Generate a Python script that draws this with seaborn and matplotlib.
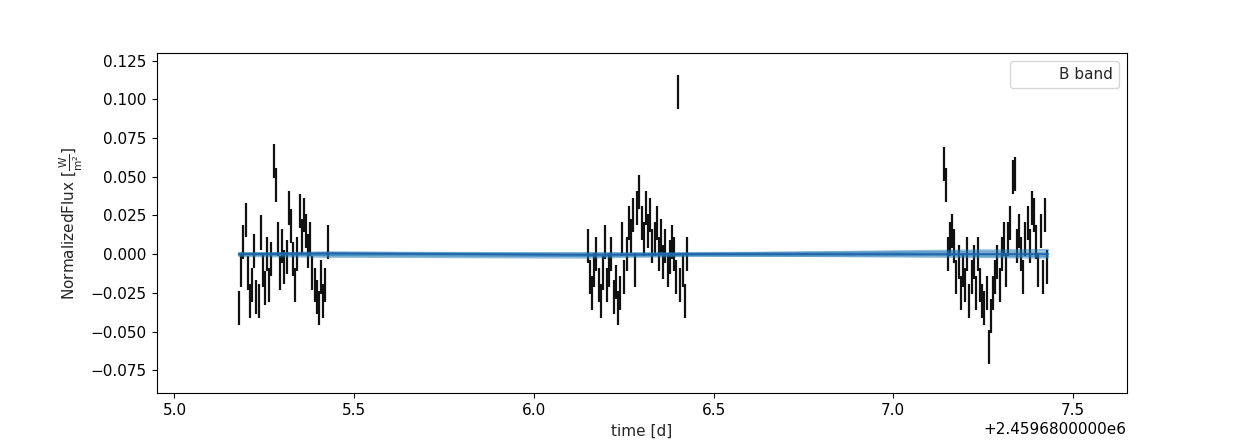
import numpy as np
import matplotlib
matplotlib.use('Agg')
import matplotlib.pyplot as plt
import matplotlib.ticker as ticker
import seaborn as sns

t0 = 2459680.0

# night 1
t1 = [5.180, 5.186, 5.192, 5.198, 5.204, 5.210, 5.216, 5.222, 5.228, 5.234, 5.240,
      5.246, 5.252, 5.258, 5.264, 5.270, 5.276, 5.282, 5.288, 5.294, 5.300, 5.306,
      5.312, 5.318, 5.324, 5.330, 5.336, 5.342, 5.348, 5.354, 5.360, 5.366, 5.372,
      5.378, 5.384, 5.390, 5.396, 5.402, 5.408, 5.414, 5.420, 5.426]
f1 = [-0.035, -0.010, 0.008, 0.022, -0.012, -0.030, -0.020, 0.002, -0.028, -0.030, 0.014,
      -0.010, -0.022, 0.000, -0.020, -0.003, 0.060, 0.045, 0.010, -0.012, 0.005, -0.008,
      -0.002, 0.030, 0.018, -0.003, -0.020, 0.000, 0.028, 0.012, 0.025, 0.015, 0.002,
      0.010, -0.012, -0.020, -0.028, -0.035, -0.015, -0.030, -0.020, 0.008]

# night 2
t2 = [6.150, 6.156, 6.162, 6.168, 6.174, 6.180, 6.186, 6.192, 6.198, 6.204, 6.210,
      6.216, 6.222, 6.228, 6.234, 6.240, 6.246, 6.252, 6.258, 6.264, 6.270, 6.276,
      6.282, 6.288, 6.294, 6.300, 6.306, 6.312, 6.318, 6.324, 6.330, 6.336, 6.342,
      6.348, 6.354, 6.360, 6.366, 6.372, 6.378, 6.384, 6.390, 6.396, 6.402,
      6.408, 6.414, 6.420, 6.426]
f2 = [0.005, -0.015, -0.025, -0.010, 0.000, -0.020, -0.030, -0.012, 0.008, -0.020, -0.010,
      0.000, -0.028, -0.018, -0.035, -0.025, 0.010, -0.015, 0.000, 0.020, 0.012, 0.025,
      -0.010, 0.030, 0.040, 0.020, 0.010, 0.030, 0.015, 0.025, 0.005, 0.010, 0.020,
      0.000, 0.012, -0.005, 0.005, -0.010, -0.002, 0.008, 0.000, -0.015, 0.105,
      -0.020, -0.010, -0.030, 0.000]

# night 3
t3 = [7.140, 7.146, 7.152, 7.158, 7.164, 7.170, 7.176, 7.182, 7.188, 7.194, 7.200,
      7.206, 7.212, 7.218, 7.224, 7.230, 7.236, 7.242, 7.248, 7.254, 7.260, 7.266,
      7.272, 7.278, 7.284, 7.290, 7.296, 7.302, 7.308, 7.314, 7.320, 7.326, 7.332,
      7.338, 7.344, 7.350, 7.356, 7.362, 7.368, 7.374, 7.380, 7.386, 7.392, 7.398,
      7.404, 7.410, 7.416, 7.422, 7.428]
f3 = [0.058, 0.045, 0.000, 0.010, 0.015, 0.005, -0.015, -0.005, -0.025, -0.010, -0.020,
      0.000, -0.030, -0.015, -0.005, -0.025, 0.000, -0.020, -0.030, -0.035, -0.025, -0.060,
      -0.040, -0.025, -0.015, -0.005, -0.020, 0.000, 0.010, -0.010, 0.010, 0.020, 0.050,
      0.052, 0.005, 0.015, 0.000, -0.015, 0.010, 0.020, 0.005, 0.030, 0.025, 0.008,
      -0.010, 0.015, -0.015, 0.025, -0.008]

err = 0.011

# model curves across the full baseline
mt = [5.18, 5.43, 6.15, 6.43, 7.14, 7.43]
models = [
    [0.000, 0.0010, 0.0000, 0.0005, 0.0010, 0.0005],
    [-0.001, -0.0015, -0.0020, -0.0010, -0.0005, -0.0010],
    [0.000, 0.0000, 0.0005, 0.0000, 0.0020, 0.0025],
    [0.0005, -0.0005, -0.0010, -0.0005, -0.0015, -0.0020],
    [0.000, 0.0005, -0.0005, 0.0000, 0.0000, 0.0000],
]


class OffsetFmt(ticker.ScalarFormatter):
    def get_offset(self):
        return '+2.4596800000e6'


sns.set_style('ticks')
plt.rcParams['font.family'] = ['DejaVu Sans']
plt.rcParams['font.size'] = 11
plt.rcParams['axes.edgecolor'] = 'k'
plt.rcParams['xtick.color'] = 'k'
plt.rcParams['ytick.color'] = 'k'
fig, ax = plt.subplots(figsize=(12.52, 4.42), dpi=100)

for t, f in [(t1, f1), (t2, f2), (t3, f3)]:
    ax.errorbar(np.array(t) + t0, f, yerr=err, fmt='none', ecolor='#111111', elinewidth=1.6)
for m in models:
    ax.plot(np.array(mt) + t0, m, color='tab:blue', alpha=0.5, lw=2)
ax.plot(np.array(mt) + t0, models[4], color='#1f5fa8', alpha=0.9, lw=1.2)

ax.plot([], [], ' ', label='B band')
ax.legend(loc='upper right')
ax.set_xlim(t0 + 4.95, t0 + 7.65)
ax.set_ylim(-0.09, 0.13)
ax.xaxis.set_major_formatter(OffsetFmt())
ax.set_xlabel('time [d]')
ax.set_ylabel(r'NormalizedFlux [$\frac{\mathrm{W}}{\mathrm{m}^2}$]')
sns.despine(top=False, right=False)
fig.savefig('out.png', dpi=100)
